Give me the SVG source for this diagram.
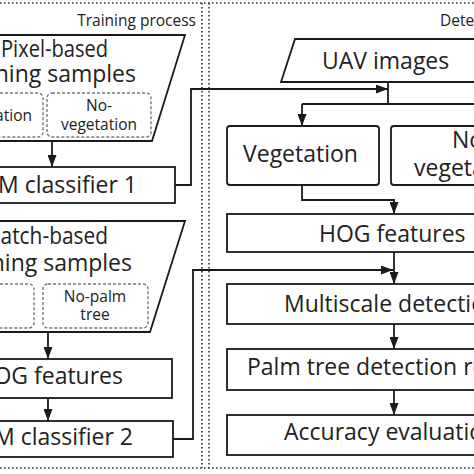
<svg xmlns="http://www.w3.org/2000/svg" width="474" height="474" viewBox="0 0 474 474">
<defs>
<marker id="ah" markerUnits="userSpaceOnUse" markerWidth="12" markerHeight="9" refX="12" refY="4.5" orient="auto">
<path d="M0,0 L12,4.5 L0,9 z" fill="#1a1a1a"/>
</marker>
<style>
.b{fill:#fff;stroke:#1a1a1a;stroke-width:1.8}
.d{fill:none;stroke:#777;stroke-width:1.4;stroke-dasharray:3 2}
.c{fill:none;stroke:#1a1a1a;stroke-width:1.8}
.a{marker-end:url(#ah)}
.dot{fill:none;stroke:#333;stroke-width:1.6;stroke-dasharray:1.6 2.4}
.t{font-family:"Open Sans","Noto Sans",sans-serif;font-size:23px;fill:#222}
.s{font-family:"Open Sans","Noto Sans",sans-serif;font-size:15.5px;fill:#222}
</style>
</defs>
<rect width="474" height="474" fill="#fff"/>
<g id="frame">
<line class="dot" x1="0" y1="3" x2="474" y2="3"/>
<line class="dot" x1="0" y1="468" x2="474" y2="468"/>
<line class="dot" x1="202" y1="3" x2="202" y2="468"/>
<line class="dot" x1="209" y1="3" x2="209" y2="468"/>
<text class="s" x="196" y="26" text-anchor="end">Training process</text>
<text class="s" x="440" y="26">Detection process</text>
</g>
<g id="connectors">
<line class="c a" x1="52" y1="141" x2="52" y2="167"/>
<line class="c a" x1="48" y1="332" x2="48" y2="359"/>
<line class="c a" x1="48" y1="398" x2="48" y2="421"/>
<polyline class="c a" points="175,185 191,185 191,89 388,89"/>
<polyline class="c a" points="173,439 193,439 193,270 393,270"/>
<line class="c" x1="388" y1="82" x2="388" y2="104"/>
<polyline class="c" points="520,104 302,104"/>
<line class="c a" x1="302" y1="104" x2="302" y2="126"/>
<polyline class="c a" points="302,185 302,200 394,200 394,214"/>
<line class="c a" x1="394" y1="252" x2="394" y2="284"/>
<line class="c a" x1="394" y1="324" x2="394" y2="349"/>
<line class="c a" x1="394" y1="390" x2="394" y2="415"/>
</g>
<g id="pixel-samples">
<polygon class="b" points="-60,35 185,35 152,141 -90,141"/>
<text class="t" x="1" y="57" textLength="107" lengthAdjust="spacingAndGlyphs">Pixel-based</text>
<text class="t" x="136" y="82" text-anchor="end">training samples</text>
<rect class="d" x="-60" y="93" width="103" height="44" rx="5"/>
<text class="s" x="32" y="121" text-anchor="end">Vegetation</text>
<rect class="d" x="47" y="93" width="104" height="44" rx="5"/>
<text class="s" x="99" y="111" text-anchor="middle">No-</text>
<text class="s" x="99" y="130" text-anchor="middle">vegetation</text>
</g>
<g id="svm1">
<rect class="b" x="-80" y="167" width="255" height="36"/>
<text class="t" x="137" y="193" text-anchor="end">SVM classifier 1</text>
</g>
<g id="patch-samples">
<polygon class="b" points="-60,221 185,221 150,332 -90,332"/>
<text class="t" x="-12" y="244" textLength="120" lengthAdjust="spacingAndGlyphs">Patch-based</text>
<text class="t" x="132" y="271" text-anchor="end">training samples</text>
<rect class="d" x="-60" y="284" width="94" height="44" rx="5"/>
<rect class="d" x="43" y="284" width="105" height="44" rx="5"/>
<text class="s" x="95" y="302" text-anchor="middle">No-palm</text>
<text class="s" x="95" y="320" text-anchor="middle">tree</text>
</g>
<g id="hog-left">
<rect class="b" x="-80" y="359" width="252" height="39"/>
<text class="t" x="123" y="384" text-anchor="end">HOG features</text>
</g>
<g id="svm2">
<rect class="b" x="-80" y="421" width="253" height="36"/>
<text class="t" x="133" y="445" text-anchor="end">SVM classifier 2</text>
</g>
<g id="uav">
<polygon class="b" points="295,39 540,39 526,82 281,82"/>
<text class="t" x="322" y="69">UAV images</text>
</g>
<g id="vegetation">
<rect class="b" x="227" y="126" width="152" height="59" rx="3"/>
<text class="t" x="243" y="162">Vegetation</text>
</g>
<g id="non-vegetation">
<rect class="b" x="391" y="126" width="140" height="59" rx="3"/>
<text class="t" x="452" y="148">No-</text>
<text class="t" x="414" y="176">vegetation</text>
</g>
<g id="hog-right">
<rect class="b" x="227" y="214" width="300" height="38"/>
<text class="t" x="319" y="242">HOG features</text>
</g>
<g id="multiscale">
<rect class="b" x="227" y="284" width="300" height="40"/>
<text class="t" x="284" y="312">Multiscale detection</text>
</g>
<g id="results">
<rect class="b" x="227" y="349" width="300" height="41"/>
<text class="t" x="247" y="375">Palm tree detection results</text>
</g>
<g id="accuracy">
<rect class="b" x="227" y="415" width="300" height="40"/>
<text class="t" x="284" y="440">Accuracy evaluation</text>
</g>
</svg>
